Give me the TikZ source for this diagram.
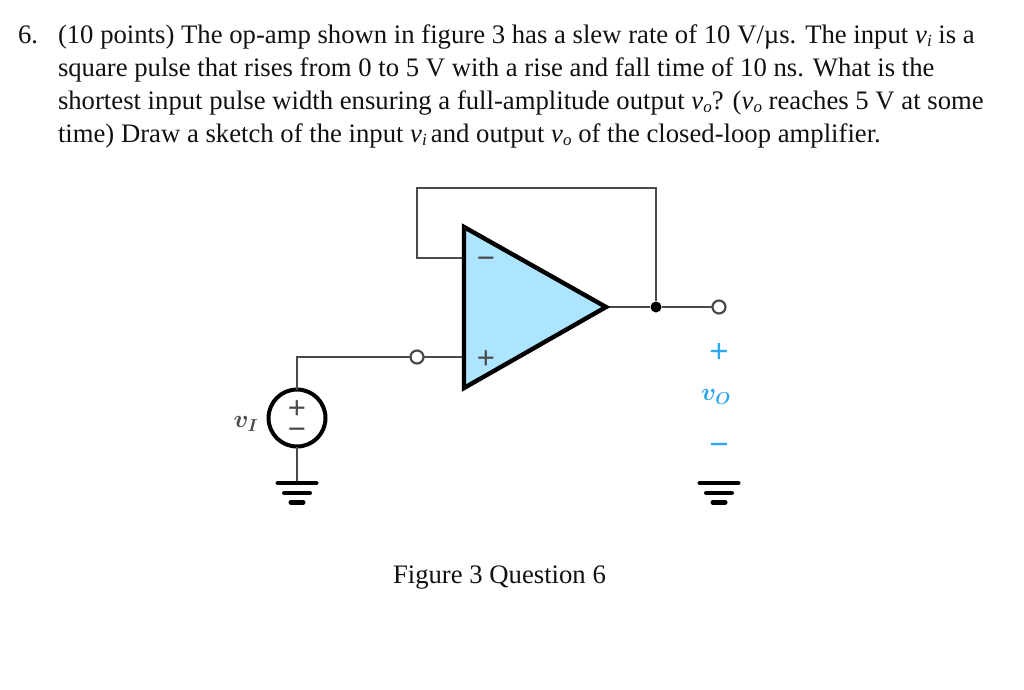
\documentclass[tikz,border=0pt]{standalone}
\usepackage{fontspec}
\setmainfont{Liberation Serif}
\newfontfamily\signfont{Liberation Sans}
\definecolor{ampfill}{HTML}{ADE4FF}
\definecolor{wirecol}{HTML}{4A4A4A}
\definecolor{lblblue}{HTML}{2BA8EE}
\definecolor{txtcol}{HTML}{111111}
\newcommand{\vsub}[1]{\textit{v}\kern0.2pt\raisebox{-3.4pt}{\fontsize{17}{18}\selectfont\textit{#1}}}
\tikzset{
  txtline/.style={anchor=base west,inner sep=0pt,outer sep=0pt,text=txtcol,font=\fontsize{26.7}{33}\selectfont},
  wire/.style={draw=wirecol,line width=2.4pt,line join=miter},
  opencirc/.style={circle,draw=wirecol,fill=white,line width=2.2pt,inner sep=0pt,minimum size=13pt,outer sep=0pt},
  soliddot/.style={circle,fill=black,inner sep=0pt,minimum size=11pt},
  srcnode/.style={circle,draw=black,fill=white,line width=4pt,inner sep=0pt,minimum size=57pt,outer sep=0pt},
  ampbody/.style={draw=black,fill=ampfill,line width=4.4pt,line join=miter},
  gbar/.style={draw=black,line width=4.6pt,line cap=round},
  darksign/.style={inner sep=0pt,text=wirecol,text height=20.5pt,text depth=0pt,font=\signfont\fontsize{31}{31}\selectfont},
  srcsigns/.style={inner sep=0pt,text=wirecol,align=center,font=\signfont\fontsize{31}{21}\selectfont},
  bluesign/.style={inner sep=0pt,text=lblblue,text height=22pt,text depth=0pt,font=\signfont\fontsize{33}{33}\selectfont}
}
\begin{document}
\begin{tikzpicture}[x=1pt,y=-1pt]
\useasboundingbox (0,0) rectangle (1024,689);
% text
\node[txtline] (num) at (18,43) {6.};
\node[txtline] (l1) at (58,43) {(10 points) The op-amp shown in figure 3 has a slew rate of 10 V/µs. The input \vsub{i} is a};
\node[txtline] (l2) at (58,76) {square pulse that rises from 0 to 5 V with a rise and fall time of 10 ns. What is the};
\node[txtline] (l3) at (58,109) {shortest input pulse width ensuring a full-amplitude output \vsub{o}? (\vsub{o} reaches 5 V at some};
\node[txtline] (l4) at (58,142) {time) Draw a sketch of the input \vsub{i}\kern4pt and output \vsub{o} of the closed-loop amplifier.};
\node[txtline] (cap) at (393,583) {Figure 3 Question 6};
% coordinates
\coordinate (fbl) at (417,188);
\coordinate (fbr) at (656,188);
\coordinate (invb) at (417,258);
\coordinate (invp) at (464,258);
\coordinate (ninvp) at (464,357);
\coordinate (ninvb) at (297,357);
\coordinate (tl) at (464,227);
\coordinate (bl) at (464,388);
\coordinate (tip) at (606,307);
\coordinate (g1) at (297,483);
\coordinate (g2) at (719,483);
% wires
\node[soliddot] (dot) at (656,307) {};
\node[opencirc] (outc) at (719,307) {};
\node[opencirc] (inc) at (417,357) {};
\node[srcnode] (src) at (297,418) {};
\draw[wire] (tip) -- (dot) -- (outc);
\draw[wire] (dot) -- (fbr) -- (fbl) -- (invb) -- (invp);
\draw[wire] (ninvp) -- (inc) -- (ninvb) -- (src);
\draw[wire] (src) -- (g1);
% amp
\draw[ampbody] (tl) -- (tip) -- (bl) -- cycle;
\node[darksign] (minus) at (486,258) {−};
\node[darksign] (plus) at (486,358) {+};
% source signs
\node[srcsigns] (ssigns) at (297,420) {+\\−};
\node[inner sep=0pt,text=wirecol,font=\boldmath\fontsize{23}{23}\selectfont] (vi) at (246,424) {$v_I$};
% output label
\node[bluesign] (oplus) at (719,351) {+};
\node[inner sep=0pt,text=lblblue,font=\boldmath\fontsize{26}{26}\selectfont] (vo) at (716,397) {$v_O$};
\node[bluesign] (ominus) at (719,444) {−};
% grounds
\foreach \g in {g1,g2}{
  \draw[gbar] ([xshift=-19.2pt]\g) -- ([xshift=19.2pt]\g);
  \draw[gbar] ([xshift=-12.7pt,yshift=-10pt]\g) -- ([xshift=12.7pt,yshift=-10pt]\g);
  \draw[gbar] ([xshift=-6.2pt,yshift=-19.3pt]\g) -- ([xshift=6.2pt,yshift=-19.3pt]\g);
}
\end{tikzpicture}
\end{document}
